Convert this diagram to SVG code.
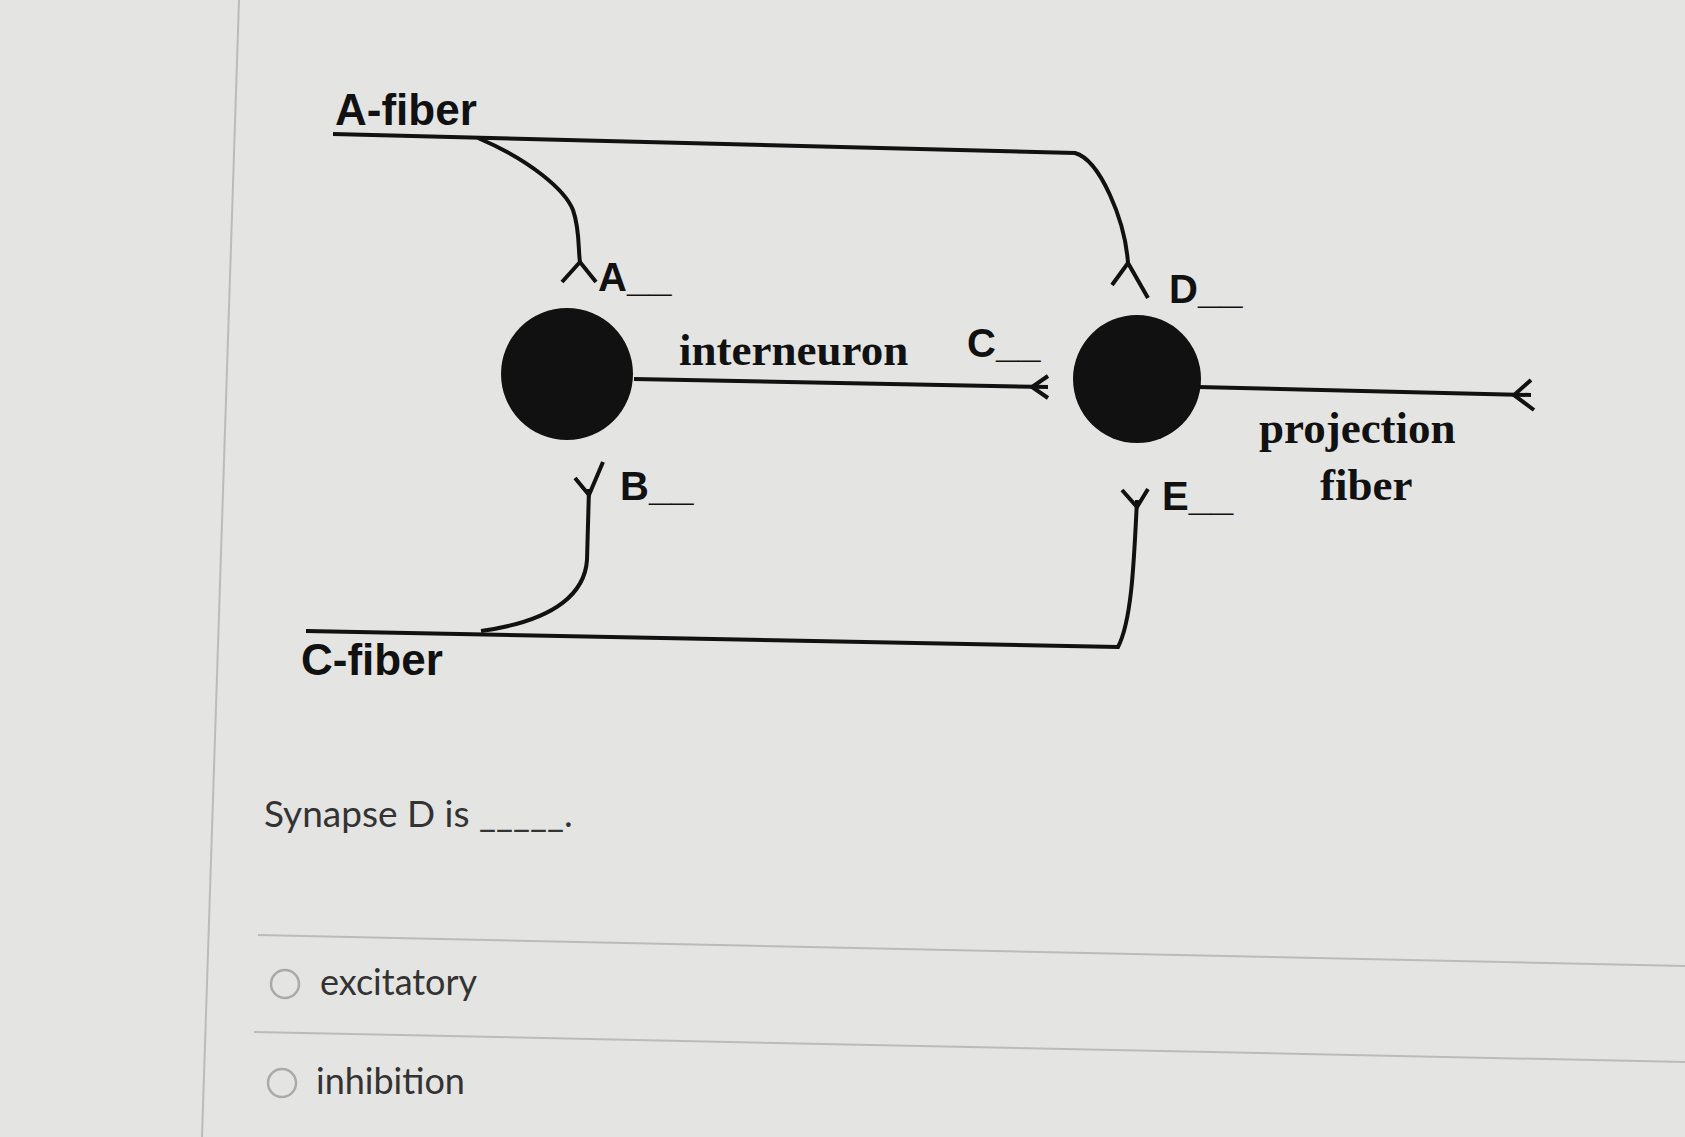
<svg xmlns="http://www.w3.org/2000/svg" width="1685" height="1137" viewBox="0 0 1685 1137">
<style>
.ln{fill:none;stroke:#111;stroke-width:4}
.lb{font-family:"Liberation Sans",Arial,sans-serif;font-weight:bold;fill:#111}
.sf{font-family:"Liberation Serif","Times New Roman",serif;font-weight:bold;fill:#111}
.ui{font-family:Lato,"Open Sans",sans-serif;fill:#333}
</style>
<rect width="1685" height="1137" fill="#e4e4e2"/>
<line x1="239" y1="0" x2="202" y2="1137" stroke="#bbb" stroke-width="2"/>
<g id="connectors">
<path class="ln" d="M333 134 L1075 153 C1100 160 1125 220 1128 263"/>
<path class="ln" d="M478 138 C530 160 565 190 573 210 C580 230 578 250 580 262"/>
<path class="ln" d="M634 379 L1048 387"/>
<path class="ln" d="M1198 387 L1531 395"/>
<path class="ln" d="M306 631 L1118 647 C1132 620 1134 560 1137 500"/>
<path class="ln" d="M481 631 C560 620 585 590 587 560 L589 489"/>
</g>
<g id="markers" class="ln">
<path d="M562 282 L580 262 L596 282"/>
<path d="M1112 285 L1128 263 L1148 298"/>
<path d="M1048 376 L1032 387 L1048 398"/>
<path d="M1531 380 L1514 395 L1534 410"/>
<path d="M575 478 L589 495 L603 462"/>
<path d="M1122 490 L1137 507 L1148 489"/>
</g>
<g id="left-neuron"><circle cx="567" cy="374" r="66" fill="#111"/></g>
<g id="right-neuron"><circle cx="1137" cy="379" r="64" fill="#111"/></g>
<g id="labels">
<text class="lb" x="335" y="125" font-size="44">A-fiber</text>
<text class="lb" x="301" y="675" font-size="44">C-fiber</text>
<text class="lb" x="598" y="291" font-size="40">A__</text>
<text class="lb" x="1169" y="303" font-size="40">D__</text>
<text class="lb" x="967" y="357" font-size="40">C__</text>
<text class="lb" x="620" y="500" font-size="40">B__</text>
<text class="lb" x="1162" y="510" font-size="40">E__</text>
<text class="sf" x="679" y="365" font-size="45">interneuron</text>
<text class="sf" x="1259" y="443" font-size="45">projection</text>
<text class="sf" x="1320" y="500" font-size="45">fiber</text>
</g>
<g id="question">
<text class="ui" x="264" y="827" font-size="37">Synapse D is _____.</text>
<line x1="258" y1="935" x2="1685" y2="966" stroke="#bbb" stroke-width="2"/>
<line x1="254" y1="1032" x2="1685" y2="1062" stroke="#bbb" stroke-width="2"/>
<circle cx="285" cy="984" r="14" fill="none" stroke="#aaa" stroke-width="2.5"/>
<text class="ui" x="320" y="995" font-size="36">excitatory</text>
<circle cx="282" cy="1083" r="14" fill="none" stroke="#aaa" stroke-width="2.5"/>
<text class="ui" x="316" y="1094" font-size="36">inhibition</text>
</g>
</svg>
